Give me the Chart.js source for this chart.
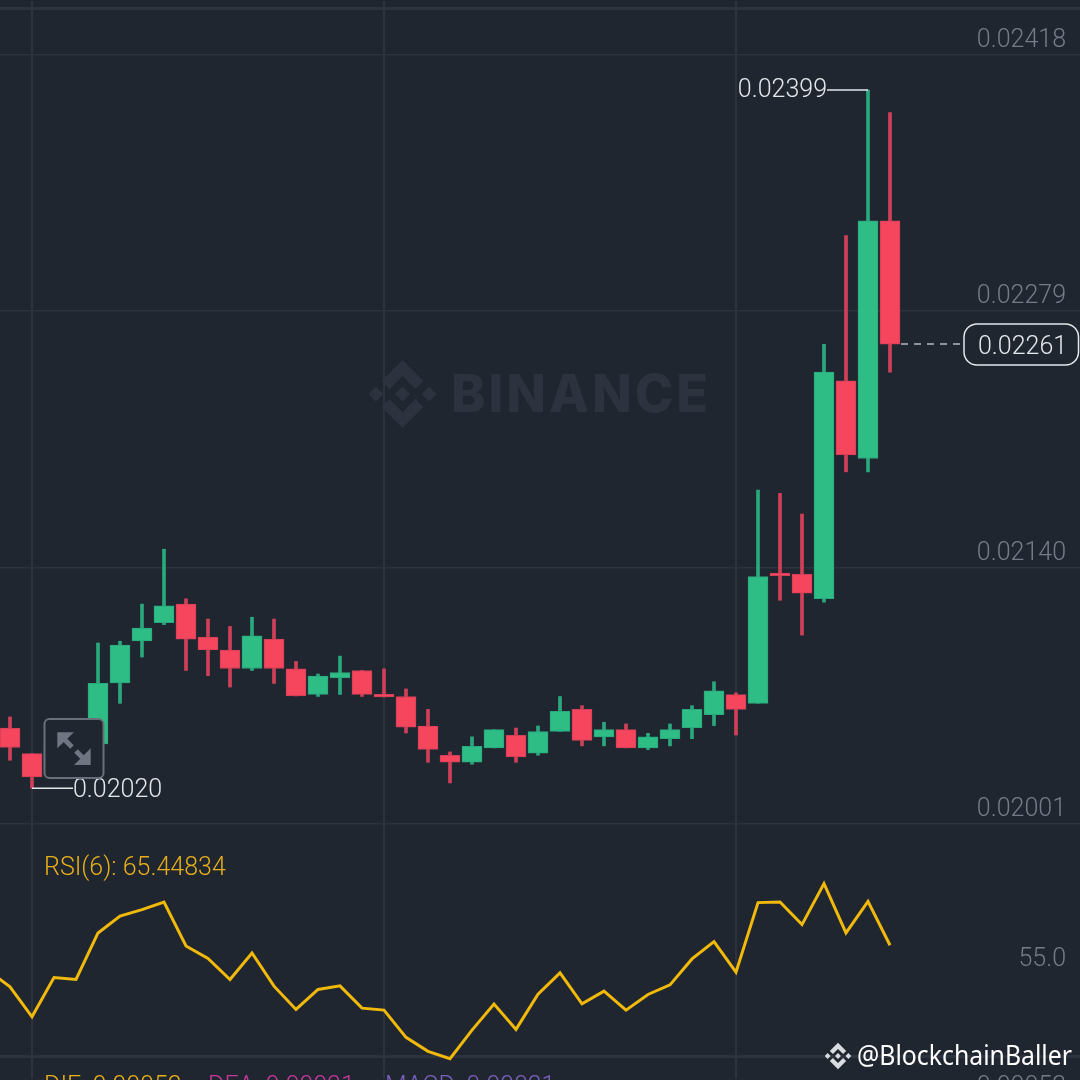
<!DOCTYPE html>
<html>
<head>
<meta charset="utf-8">
<title>Binance chart</title>
<script src="https://cdn.jsdelivr.net/npm/chart.js@4"></script>
<style>
  html, body { margin: 0; padding: 0; background: #202630; }
  canvas { display: block; }
</style>
</head>
<body>
<canvas id="chart" width="1080" height="1080"></canvas>
<script>
// candles, left to right, one every 22px
const candleIndex = [0,1,2,3,4,5,6,7,8,9,10,11,12,13,14,15,16,17,18,19,20,21,22,23,24,25,26,27,28,29,30,31,32,33,34,35,36,37,38,39,40];
const opens = [0.020528,0.020389,0.020330,0.020454,0.020442,0.020772,0.021001,0.021100,0.021200,0.021021,0.020951,0.020851,0.021010,0.020849,0.020710,0.020801,0.020840,0.020710,0.020699,0.020539,0.020380,0.020342,0.020420,0.020488,0.020391,0.020510,0.020629,0.020480,0.020519,0.020420,0.020470,0.020530,0.020600,0.020709,0.020662,0.021368,0.021362,0.021230,0.022411,0.021990,0.023279];
const closes = [0.020422,0.020263,0.020438,0.020438,0.020770,0.020978,0.021070,0.021191,0.021010,0.020951,0.020851,0.021028,0.020851,0.020702,0.020810,0.020829,0.020710,0.020696,0.020532,0.020412,0.020342,0.020429,0.020519,0.020371,0.020508,0.020618,0.020461,0.020519,0.020420,0.020480,0.020519,0.020629,0.020729,0.020629,0.021349,0.021355,0.021259,0.022459,0.022010,0.023279,0.022611];
const highs = [0.020588,0.020389,0.020546,0.020503,0.020989,0.020999,0.021200,0.021498,0.021229,0.021119,0.021079,0.021129,0.021119,0.020889,0.020821,0.020918,0.020840,0.020849,0.020740,0.020629,0.020398,0.020480,0.020519,0.020528,0.020539,0.020699,0.020649,0.020559,0.020550,0.020499,0.020550,0.020649,0.020779,0.020719,0.021819,0.021801,0.021689,0.022609,0.023200,0.023989,0.023867];
const lows = [0.020353,0.020201,0.020302,0.020400,0.020438,0.020662,0.020913,0.021089,0.020840,0.020812,0.020750,0.020840,0.020770,0.020702,0.020699,0.020710,0.020699,0.020696,0.020501,0.020342,0.020230,0.020331,0.020420,0.020342,0.020380,0.020510,0.020431,0.020431,0.020420,0.020411,0.020431,0.020470,0.020541,0.020490,0.020662,0.021221,0.021032,0.021211,0.021918,0.021918,0.022459];

// rsi starts one candle earlier, that candle is off the left edge
const rsiIndex = [-1,0,1,2,3,4,5,6,7,8,9,10,11,12,13,14,15,16,17,18,19,20,21,22,23,24,25,26,27,28,29,30,31,32,33,34,35,36,37,38,39,40];
const rsiValues = [56.1,49.89,38.69,53.40,52.65,70.04,76.38,78.77,81.61,65.19,60.49,52.65,62.58,50.15,41.45,48.92,50.26,41.94,41.19,31.0,25.78,23.02,33.73,43.43,33.99,47.16,55.11,43.54,48.28,41.19,47.05,50.63,60.34,66.83,55.37,81.39,81.61,73.17,88.48,70.04,81.87,65.45];

const priceTicks = [0.02418, 0.02279, 0.02140, 0.02001];
const paneEdges = [0.024434, 0.018743];
const rsiTicks = [55.0];
const timeTicks = [1, 17, 33];

const highestIndex = 39;
const lowestIndex = 1;
const lastIndex = 40;

const BG = '#202630';
const GRID = '#2c333f';
const AXIS_TEXT = '#757c89';
const UP = '#2ebd85';
const DOWN = '#f6465d';
const UP_WICK = '#2ba97e';
const DOWN_WICK = '#d04058';
const LIGHT = '#e4e7eb';
const FONT = '300 25px Roboto';

function logo(ctx, cx, cy, s, color) {
  ctx.save();
  ctx.translate(cx, cy);
  ctx.scale(s, s);
  ctx.fillStyle = color;
  const shapes = [
    [[0,-34],[21,-13],[13,-5],[0,-18],[-13,-5],[-21,-13]],
    [[0,34],[21,13],[13,5],[0,18],[-13,5],[-21,13]],
    [[0,-7.5],[7.5,0],[0,7.5],[-7.5,0]],
    [[-26.6,-7.5],[-19.1,0],[-26.6,7.5],[-34,0]],
    [[26.6,-7.5],[34,0],[26.6,7.5],[19.1,0]]
  ];
  shapes.forEach(p => {
    ctx.beginPath();
    p.forEach((q, i) => i ? ctx.lineTo(q[0], q[1]) : ctx.moveTo(q[0], q[1]));
    ctx.closePath();
    ctx.fill();
  });
  ctx.restore();
}

const watermark = {
  id: 'watermark',
  beforeDatasetsDraw(chart) {
    const ctx = chart.ctx;
    ctx.save();
    logo(ctx, 402.5, 394, 1, '#2d333e');
    ctx.fillStyle = '#2d333e';
    ctx.font = '800 52px Inter';
    ctx.letterSpacing = '3px';
    ctx.textAlign = 'left';
    ctx.textBaseline = 'alphabetic';
    ctx.fillText('BINANCE', 451, 412, 260);
    ctx.restore();
  }
};

const overlays = {
  id: 'overlays',
  afterDatasetsDraw(chart) {
    const ctx = chart.ctx;
    const x = chart.scales.x, y = chart.scales.y;
    ctx.save();
    ctx.textBaseline = 'alphabetic';
    ctx.textAlign = 'left';

    // max / min labels with their leader lines
    ctx.strokeStyle = LIGHT;
    ctx.lineWidth = 1.5;
    const hx = x.getPixelForValue(highestIndex), hy = y.getPixelForValue(highs[highestIndex]);
    ctx.beginPath(); ctx.moveTo(hx, hy); ctx.lineTo(hx - 41, hy); ctx.stroke();
    ctx.fillStyle = LIGHT;
    ctx.font = FONT;
    ctx.textAlign = 'right';
    ctx.fillText(highs[highestIndex].toFixed(5), hx - 41, hy + 7);

    const lx = x.getPixelForValue(lowestIndex), ly = y.getPixelForValue(lows[lowestIndex]);
    ctx.beginPath(); ctx.moveTo(lx, ly); ctx.lineTo(lx + 41, ly); ctx.stroke();
    ctx.textAlign = 'left';
    ctx.fillText(lows[lowestIndex].toFixed(5), lx + 41, ly + 8.5);

    // last price dashes and pill
    const py = y.getPixelForValue(closes[lastIndex]);
    ctx.strokeStyle = '#b4b8c0';
    ctx.setLineDash([7, 6]);
    ctx.beginPath(); ctx.moveTo(x.getPixelForValue(lastIndex) + 11, py); ctx.lineTo(963, py); ctx.stroke();
    ctx.setLineDash([]);
    ctx.strokeStyle = LIGHT;
    ctx.beginPath();
    ctx.roundRect(964, 324, 114.5, 41, 13);
    ctx.fillStyle = BG;
    ctx.fill();
    ctx.lineWidth = 1.5;
    ctx.stroke();
    ctx.fillStyle = LIGHT;
    ctx.fillText(closes[lastIndex].toFixed(5), 978, 353.5);

    // expand button
    ctx.beginPath();
    ctx.roundRect(44.5, 719, 59, 59, 5);
    ctx.fillStyle = BG;
    ctx.fill();
    ctx.strokeStyle = '#6a707b';
    ctx.lineWidth = 2;
    ctx.stroke();
    ctx.fillStyle = '#6f7682';
    ctx.strokeStyle = '#6f7682';
    ctx.lineWidth = 5;
    ctx.beginPath(); ctx.moveTo(57.3, 732.3); ctx.lineTo(74, 732.3); ctx.lineTo(57.3, 748.3); ctx.closePath(); ctx.fill();
    ctx.beginPath(); ctx.moveTo(90.7, 765); ctx.lineTo(74, 765); ctx.lineTo(90.7, 748.3); ctx.closePath(); ctx.fill();
    ctx.beginPath(); ctx.moveTo(63, 738); ctx.lineTo(72, 747); ctx.stroke();
    ctx.beginPath(); ctx.moveTo(76, 751); ctx.lineTo(85, 760); ctx.stroke();

    // indicator legends
    ctx.font = FONT;
    ctx.fillStyle = '#e8af1a';
    ctx.fillText('RSI(6): ' + '65.44834', 44, 875);
    ctx.fillText('DIF: 0.00052', 44, 1094);
    ctx.fillStyle = '#c9379d';
    ctx.fillText('DEA: 0.00031', 208, 1094);
    ctx.fillStyle = '#7c5fc0';
    ctx.fillText('MACD: 0.00021', 385, 1094);
    ctx.fillStyle = AXIS_TEXT;
    ctx.textAlign = 'right';
    ctx.fillText('0.00052', 1066, 1094);

    // repost credit
    logo(ctx, 838, 1056, 0.39, '#d9dcdf');
    ctx.textAlign = 'left';
    ctx.fillStyle = '#ffffff';
    ctx.font = '400 28px "Noto Sans"';
    ctx.fillText('@BlockchainBaller', 857, 1065, 215);
    ctx.restore();
  }
};

const isUp = i => closes[i] >= opens[i];

new Chart(document.getElementById('chart'), {
  data: {
    datasets: [
      {
        type: 'bar',
        data: candleIndex.map(i => ({ x: i, y: [lows[i], highs[i]] })),
        backgroundColor: candleIndex.map(i => isUp(i) ? UP_WICK : DOWN_WICK),
        barThickness: 3,
        grouped: false,
        yAxisID: 'y',
        order: 3
      },
      {
        type: 'bar',
        data: candleIndex.map(i => ({ x: i, y: [opens[i], closes[i]] })),
        backgroundColor: candleIndex.map(i => isUp(i) ? UP : DOWN),
        borderColor: candleIndex.map(i => isUp(i) ? UP_WICK : DOWN_WICK),
        borderWidth: 1,
        borderSkipped: false,
        barThickness: 20,
        grouped: false,
        yAxisID: 'y',
        order: 2
      },
      {
        type: 'line',
        data: rsiIndex.map((v, i) => ({ x: v, y: rsiValues[i] })),
        borderColor: '#f0b90b',
        borderWidth: 3,
        pointRadius: 0,
        tension: 0,
        yAxisID: 'yRsi',
        order: 1
      }
    ]
  },
  options: {
    responsive: false,
    animation: false,
    layout: { padding: 0 },
    plugins: { legend: { display: false }, tooltip: { enabled: false } },
    scales: {
      x: {
        type: 'linear',
        min: -10 / 22,
        max: 1070 / 22,
        offset: false,
        border: { display: false },
        grid: { color: GRID, lineWidth: 2, drawTicks: false, offset: false },
        ticks: { display: false },
        afterBuildTicks: axis => { axis.ticks = timeTicks.map(value => ({ value })); }
      },
      y: {
        position: 'right',
        min: 0.01862363,
        max: 0.02447237,
        border: { display: false },
        grid: {
          color: GRID,
          drawTicks: false,
          lineWidth: ctx => paneEdges.includes(ctx.tick.value) ? 3 : 1.5
        },
        ticks: {
          mirror: true,
          padding: -14,
          labelOffset: -14,
          autoSkip: false,
          color: AXIS_TEXT,
          font: { family: 'Roboto', size: 25, weight: '300' },
          callback: v => priceTicks.includes(v) ? v.toFixed(5) : ''
        },
        afterFit: axis => { axis.width = 0; },
        afterBuildTicks: axis => { axis.ticks = priceTicks.concat(paneEdges).map(value => ({ value })); }
      },
      yRsi: {
        position: 'right',
        min: 15.44,
        max: 418.49,
        border: { display: false },
        grid: { display: false, drawTicks: false },
        ticks: {
          mirror: true,
          padding: -14,
          labelOffset: -13,
          autoSkip: false,
          color: AXIS_TEXT,
          font: { family: 'Roboto', size: 25, weight: '300' },
          callback: v => v.toFixed(1)
        },
        afterFit: axis => { axis.width = 0; },
        afterBuildTicks: axis => { axis.ticks = rsiTicks.map(value => ({ value })); }
      }
    }
  },
  plugins: [watermark, overlays]
});
</script>
</body>
</html>
